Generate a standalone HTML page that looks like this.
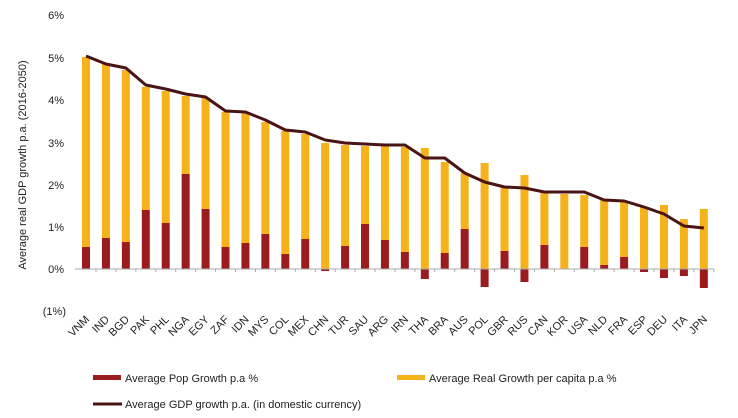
<!DOCTYPE html>
<html><head><meta charset="utf-8"><style>body{margin:0;background:#fff}svg{display:block}</style></head><body>
<svg width="738" height="418" xmlns="http://www.w3.org/2000/svg" font-family="Liberation Sans, Arial, sans-serif" font-size="11" fill="#222">
<g text-anchor="end" font-size="11">
<text x="64" y="19">6%</text><text x="64" y="62">5%</text><text x="64" y="104">4%</text><text x="64" y="147">3%</text><text x="64" y="189">2%</text><text x="64" y="231">1%</text><text x="64" y="273">0%</text><text x="66" y="315">(1%)</text>
</g>
<text transform="translate(26,165) rotate(-90)" text-anchor="middle" font-size="11">Average real GDP growth p.a. (2016-2050)</text>
<g id="bars"></g>
<line x1="75" y1="269" x2="714" y2="269" stroke="#aaa" stroke-width="1"/>
<g id="ticks" stroke="#aaa"></g>
<polyline id="ln" fill="none" stroke="#4a1414" stroke-width="3" stroke-linejoin="round"/>
<g id="lbl" text-anchor="end" font-size="11"></g>
<rect x="93" y="375" width="28" height="5" fill="#9b1c1f"/><text x="125" y="382">Average Pop Growth p.a %</text>
<rect x="397" y="375" width="28" height="5" fill="#f5b21a"/><text x="429" y="382">Average Real Growth per capita p.a %</text>
<line x1="93" y1="404" x2="122" y2="404" stroke="#4a1414" stroke-width="3"/><text x="125" y="408">Average GDP growth p.a. (in domestic currency)</text>
<script>
var c=["VNM","IND","BGD","PAK","PHL","NGA","EGY","ZAF","IDN","MYS","COL","MEX","CHN","TUR","SAU","ARG","IRN","THA","BRA","AUS","POL","GBR","RUS","CAN","KOR","USA","NLD","FRA","ESP","DEU","ITA","JPN"];
var yt=[57,64,70,87,91,96,98,112,113,122,131,134,143,145,146,146,147,148,162,173,163,187,175,192,194,195,200,202,207,205,219,209];
var rt=[247,238,242,210,223,174,209,247,243,234,254,239,271,246,224,240,252,279,253,229,287,251,282,245,269,247,265,257,272,278,276,288];
var lt=[56,64,68,85,89,94,97,111,112,120,130,132,140,143,144,145,145,158,158,173,182,187,188,192,192,192,200,201,207,214,226,228];
var ns="http://www.w3.org/2000/svg",b=document.getElementById("bars"),t=document.getElementById("ticks"),l=document.getElementById("lbl"),pts=[];
function r(x,y,h,f){var e=document.createElementNS(ns,"rect");e.setAttribute("x",x-4);e.setAttribute("y",y);e.setAttribute("width",8);e.setAttribute("height",Math.max(h,0));e.setAttribute("fill",f);b.appendChild(e);}
for(var i=0;i<32;i++){var x=86+i*19.93;
if(rt[i]<269){r(x,yt[i],rt[i]-yt[i],"#f5b21a");r(x,rt[i],269-rt[i],"#9b1c1f");}
else{r(x,yt[i],269-yt[i],"#f5b21a");r(x,269,rt[i]-269,"#9b1c1f");}
pts.push(x+","+lt[i]);
var k=document.createElementNS(ns,"line");k.setAttribute("x1",x+10);k.setAttribute("x2",x+10);k.setAttribute("y1",269);k.setAttribute("y2",272);t.appendChild(k);
var s=document.createElementNS(ns,"text");s.setAttribute("transform","translate("+(x+4)+",320) rotate(-45)");s.textContent=c[i];l.appendChild(s);}
document.getElementById("ln").setAttribute("points",pts.join(" "));
</script>
</svg>
</body></html>
